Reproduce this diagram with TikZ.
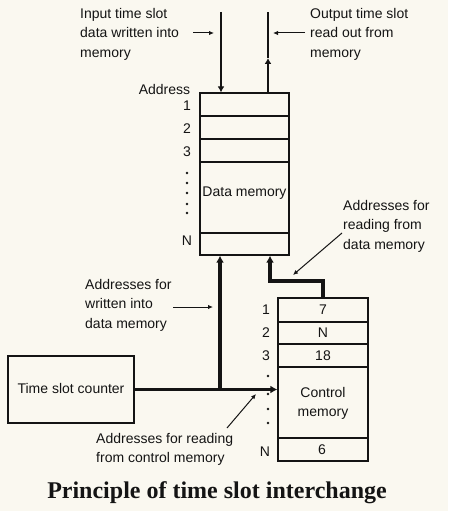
\documentclass[tikz,border=0pt]{standalone}
\usepackage{fontspec}
\setmainfont{Liberation Sans}
\newfontfamily\titlefont{Liberation Serif}
\usetikzlibrary{arrows.meta}
\definecolor{paper}{RGB}{250,248,240}
\definecolor{ink}{RGB}{20,20,20}
\begin{document}
\begin{tikzpicture}[x=1pt,y=-1pt,
  every node/.style={text=ink},
  lbl/.style={font=\fontsize{14}{19.5}\selectfont, align=left, inner sep=0pt, anchor=north west},
  txt/.style={font=\fontsize{14}{19}\selectfont, inner sep=0pt},
  box/.style={draw=ink, line width=1.3pt, inner sep=0pt},
  divl/.style={draw=ink, line width=1.3pt},
  midl/.style={draw=ink, line width=2pt},
  thk/.style={draw=ink, line width=3.4pt},
  lead/.style={draw=ink, line width=1pt, -{Latex[length=5pt,width=4.5pt]}},
  tipm/.style={-{Latex[length=6pt,width=7pt]}},
  tipt/.style={-{Latex[length=7pt,width=8pt]}},
  dot/.style={circle, fill=ink, inner sep=0pt, minimum size=2.6pt}
]
\fill[paper] (0,0) rectangle (448,511);
\useasboundingbox (0,0) rectangle (448,511);

% Data memory
\node[box, minimum width=89pt, minimum height=162pt] (dm) at (244.5,174) {};
\foreach \yy in {116,139,162,233} \draw[divl] (dm.west |- 0,\yy) -- (dm.east |- 0,\yy);
\node[txt] (dmt) at (244.5,193) {Data memory};
\node[txt] (addr) at (164.5,89) {Address};
\node[txt] (d1) at (187,106) {1};
\node[txt] (d2) at (187,129) {2};
\node[txt] (d3) at (187,152) {3};
\node[txt] (dN) at (187,241) {N};
\foreach \yy [count=\i] in {173,183,193,204,213} \node[dot] (dd\i) at (187,\yy) {};

% Control memory
\node[box, minimum width=90pt, minimum height=163pt] (cm) at (323,379.5) {};
\foreach \yy in {322,344,367,438} \draw[divl] (cm.west |- 0,\yy) -- (cm.east |- 0,\yy);
\node[txt] (c1) at (323,310) {7};
\node[txt] (c2) at (323,333) {N};
\node[txt] (c3) at (323,356) {18};
\node[txt, align=center] (cmt) at (323,403) {Control\\memory};
\node[txt] (cN) at (322,450) {6};
\node[txt] (a1) at (266,310) {1};
\node[txt] (a2) at (266,333) {2};
\node[txt] (a3) at (266,356) {3};
\node[txt] (aN) at (265,452) {N};
\foreach \yy [count=\i] in {376,394,409,423} \node[dot] (cd\i) at (268,\yy) {};

% Time slot counter
\node[box, minimum width=126pt, minimum height=67pt] (tsc) at (71,389.5) {};
\node[txt] (tsct) at (71,388) {Time slot counter};

% In / out lines
\coordinate (inTop) at (221,12);
\coordinate (outTop) at (268,12);
\coordinate (outMid) at (268,58);
\draw[midl, tipm] (inTop) -- (inTop |- dm.north);
\draw[midl, tipm] (outTop |- dm.north) -- (outMid);
\draw[midl] (outMid) -- (outTop);

% Thick address paths
\coordinate (jn) at (220,389.5);
\coordinate (bend) at (270,281);
\draw[thk, tipt] (tsc.east) -- (tsc.east -| cm.west);
\draw[thk, tipt] (jn) -- (jn |- dm.south);
\draw[thk, tipt] (cm.north) |- (bend) -- (bend |- dm.south);

% Labels
\node[lbl] (inl) at (80,8) {Input time slot\\data written into\\memory};
\node[lbl] (outl) at (310,8) {Output time slot\\read out from\\memory};
\node[lbl] (rdl) at (343,200) {Addresses for\\reading from\\data memory};
\node[lbl] (wrl) at (85,279) {Addresses for\\written into\\data memory};
\node[lbl] (ctl) at (96,433) {Addresses for reading\\from control memory};

% Leaders
\coordinate (inA) at (193,33);   \coordinate (inB) at (214,33);
\coordinate (outA) at (305,33);  \coordinate (outB) at (273,33);
\coordinate (wrA) at (173,307);  \coordinate (wrB) at (213,307);
\coordinate (rdA) at (342,233);  \coordinate (rdB) at (293,275);
\coordinate (ctA) at (227,428);  \coordinate (ctB) at (256,394);
\draw[lead] (inA) -- (inB);
\draw[lead] (outA) -- (outB);
\draw[lead] (wrA) -- (wrB);
\draw[lead] (rdA) -- (rdB);
\draw[lead] (ctA) -- (ctB);

% Title
\node[font=\titlefont\bfseries\fontsize{24}{28}\selectfont, inner sep=0pt] (title) at (217,493) {Principle of time slot interchange};
\end{tikzpicture}
\end{document}
